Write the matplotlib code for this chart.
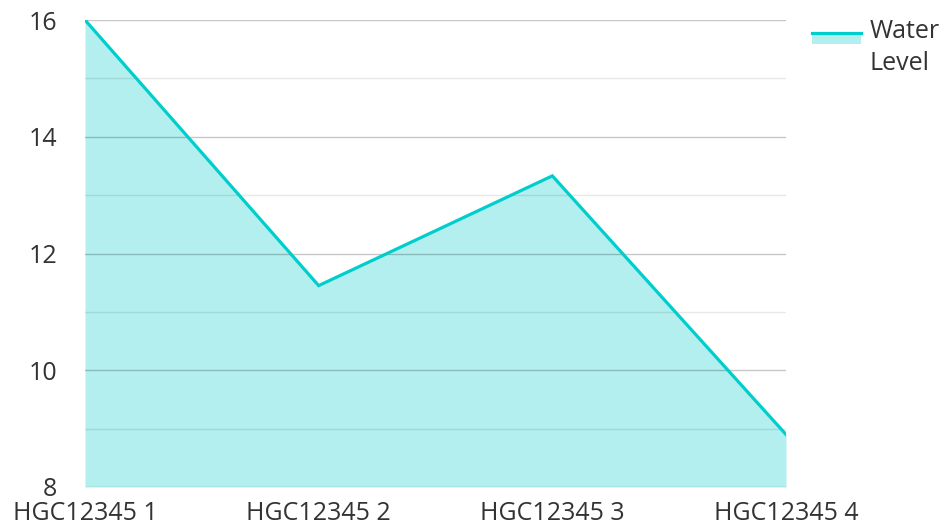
import matplotlib
matplotlib.use("Agg")
import matplotlib.pyplot as plt
from matplotlib.patches import Rectangle
from matplotlib.lines import Line2D

plt.rcParams['font.family'] = ['Open Sans', 'DejaVu Sans']

# data
wells = ['HGC12345 1', 'HGC12345 2', 'HGC12345 3', 'HGC12345 4']
water_level = [16.0, 11.45, 13.33, 8.9]
y_ticks = [8, 10, 12, 14, 16]
y_minor = [9, 11, 13, 15]

line_color = '#00cecc'
fill_color = '#b2efee'
text_color = '#333333'

fig = plt.figure(figsize=(9.41, 5.28), dpi=100)
ax = fig.add_axes([85 / 941, 1 - 487 / 528, (786 - 85) / 941, (487 - 20) / 528])

x = range(len(wells))
ax.fill_between(x, 8, water_level, color=fill_color, lw=0, zorder=1)
ax.plot(x, water_level, color=line_color, lw=2.3, zorder=3, solid_joinstyle='miter')

# gridlines drawn over the fill
for v in y_ticks:
    ax.axhline(v, color='#000000', alpha=0.22, lw=1, zorder=2)
for v in y_minor:
    ax.axhline(v, color='#000000', alpha=0.09, lw=1, zorder=2)

ax.set_xlim(0, len(wells) - 1)
ax.set_ylim(8, 16)
ax.set_xticks(list(x))
ax.set_xticklabels(wells)
ax.set_yticks(y_ticks)
ax.tick_params(axis='both', length=0, labelsize=18, colors=text_color)
ax.tick_params(axis='y', pad=20)
ax.tick_params(axis='x', pad=10)
for s in ax.spines.values():
    s.set_visible(False)

# legend swatch: line over a filled box
fig.add_artist(Rectangle((812 / 941, 1 - 44 / 528), 49 / 941, 10 / 528,
                         transform=fig.transFigure, color=fill_color, lw=0))
fig.add_artist(Line2D([812 / 941, 861 / 941], [1 - 33 / 528, 1 - 33 / 528],
                      transform=fig.transFigure, color=line_color, lw=2.3))
fig.text(870 / 941, 1 - 31 / 528, 'Water', fontsize=18, color=text_color, va='center')
fig.text(870 / 941, 1 - 63 / 528, 'Level', fontsize=18, color=text_color, va='center')

fig.savefig('out.png', dpi=100)
